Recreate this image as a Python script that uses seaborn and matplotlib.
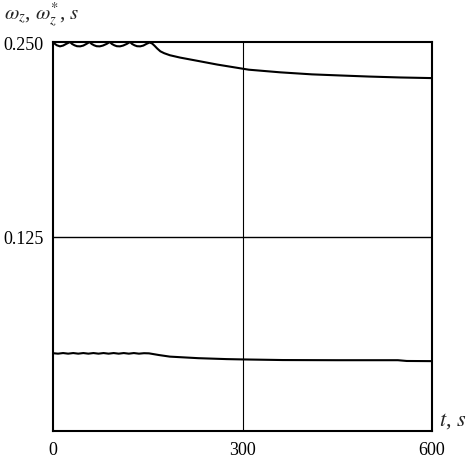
import matplotlib
matplotlib.use("Agg")
import matplotlib.pyplot as plt
import seaborn as sns
import pandas as pd

# Upper curve (omega_z)
t_upper = [0, 3, 6, 11, 16, 21, 27, 30, 34, 38, 43, 48, 53, 58, 61, 65, 69, 74, 79, 85, 90,
           93, 97, 101, 106, 111, 117, 122, 125, 129, 133, 138, 143, 148, 153, 157, 161,
           165, 170, 176, 185, 201, 230, 260, 310, 360, 410, 454, 500, 550, 600]
v_upper = [0.2500, 0.2488, 0.2479, 0.2472, 0.2477, 0.2488, 0.2500, 0.2488, 0.2479, 0.2473, 0.2472,
           0.2477, 0.2488, 0.2500, 0.2488, 0.2479, 0.2473, 0.2472, 0.2477, 0.2488, 0.2500,
           0.2488, 0.2479, 0.2473, 0.2472, 0.2477, 0.2488, 0.2500, 0.2488, 0.2479, 0.2473,
           0.2472, 0.2477, 0.2488, 0.2497, 0.2490, 0.2475,
           0.2458, 0.2440, 0.2428, 0.2415, 0.2400, 0.2378, 0.2355, 0.2322, 0.2305, 0.2292,
           0.2285, 0.2278, 0.2272, 0.2268]

# Lower curve (s)
t_lower = [0, 8, 16, 24, 32, 40, 48, 56, 64, 72, 80, 88, 96, 104, 112, 120, 128, 136, 144,
           152, 168, 185, 230, 275, 300, 364, 450, 546, 560, 600]
v_lower = [0.0500, 0.0497, 0.0501, 0.0497, 0.0501, 0.0497, 0.0501, 0.0497, 0.0501, 0.0497,
           0.0501, 0.0497, 0.0501, 0.0497, 0.0501, 0.0497, 0.0501, 0.0497, 0.0500,
           0.0499, 0.0488, 0.0478, 0.0468, 0.0462, 0.0460, 0.0456, 0.0455, 0.0455, 0.0450, 0.0449]

x_ticks = [0, 300, 600]
y_ticks = [0.125, 0.250]
y_tick_labels = ["0.125", "0.250"]

df = pd.concat([
    pd.DataFrame({"t": t_upper, "v": v_upper, "series": "omega_z"}),
    pd.DataFrame({"t": t_lower, "v": v_lower, "series": "s"}),
])

sns.set_style("white")
plt.rcParams["font.family"] = ["Liberation Serif", "DejaVu Serif"]
plt.rcParams["mathtext.fontset"] = "stix"

fig = plt.figure(figsize=(4.74, 4.60), dpi=100)
ax = fig.add_axes([53 / 474, 1 - 432 / 460, (432 - 53) / 474, (432 - 43) / 460])

sns.lineplot(data=df, x="t", y="v", hue="series", palette=["black", "black"],
             linewidth=1.5, legend=False, ax=ax, estimator=None, sort=False)

ax.set_xlim(0, 600)
ax.set_ylim(0, 0.250)
ax.set_xticks(x_ticks)
ax.set_xticklabels([str(v) for v in x_ticks])
ax.set_yticks(y_ticks)
ax.set_yticklabels(y_tick_labels)
ax.tick_params(axis="both", labelsize=13, direction="out", length=4, width=1.2,
               colors="black", pad=3)
ax.tick_params(axis="x", length=3, pad=4)

ax.axvline(300, color="black", lw=0.8, zorder=1)
ax.axhline(0.125, color="black", lw=1.0, zorder=1)

for sp in ax.spines.values():
    sp.set_visible(True)
    sp.set_color("black")
    sp.set_linewidth(1.5)

ax.set_xlabel("")
ax.set_ylabel("")

fig.text(439 / 474, 1 - 426 / 460, r"$t$, $s$", fontsize=16, ha="left", va="baseline")
fig.text(4 / 474, 1 - 20 / 460, r"$\omega_z$, $\omega^{*}_z$, $s$", fontsize=15,
         ha="left", va="baseline")

fig.savefig("out.png", dpi=100, facecolor="white")
